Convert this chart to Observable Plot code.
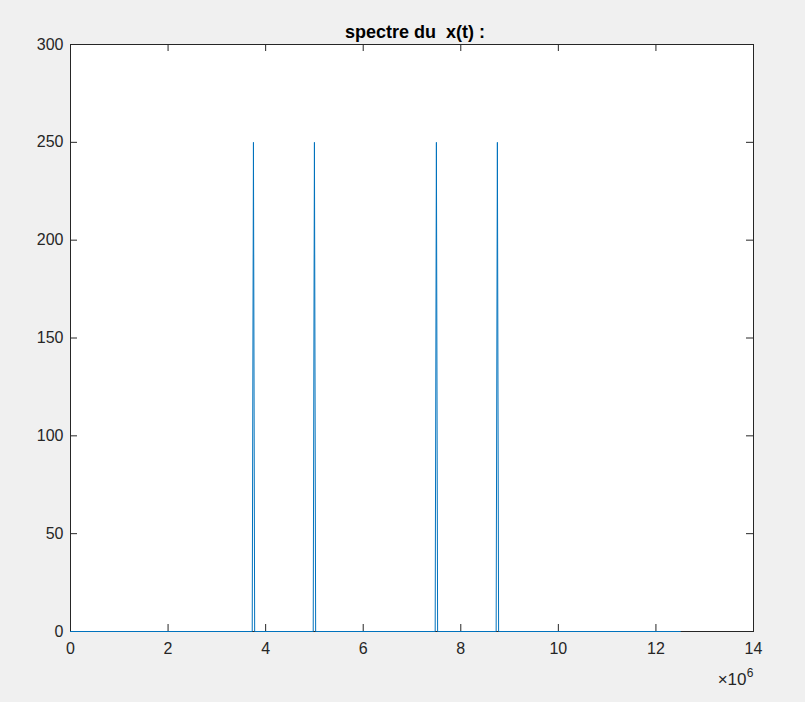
<!DOCTYPE html>
<html>
<head>
<meta charset="utf-8">
<script src="https://cdn.jsdelivr.net/npm/d3@7"></script>
<script src="https://cdn.jsdelivr.net/npm/@observablehq/plot@0.6"></script>
<style>
  html, body { margin: 0; padding: 0; background: #f0f0f0; }
  #chart { width: 805px; height: 702px; }
</style>
</head>
<body>
<div id="chart"></div>
<script>
const title = "spectre du  x(t) :";
const freq = [0, 3725000, 3750000, 3775000, 4975000, 5000000, 5025000, 7475000, 7500000, 7525000, 8725000, 8750000, 8775000, 12500000];
const amplitude = [0, 0, 250, 0, 0, 250, 0, 0, 250, 0, 0, 250, 0, 0];
const xTicks = [0, 2e6, 4e6, 6e6, 8e6, 10e6, 12e6, 14e6];
const yTicks = [0, 50, 100, 150, 200, 250, 300];
const exponentBase = "\u00d710";
const exponent = "6";

const data = freq.map((f, i) => ({f, a: amplitude[i]}));
const W = 805, H = 702;
const mL = 70, mR = 52, mT = 44, mB = 71;
const fh = H - mT - mB, fw = W - mL - mR;
const tl = 7;
const ink = "#262626";

const plot = Plot.plot({
  width: W, height: H,
  marginLeft: mL, marginRight: mR, marginTop: mT, marginBottom: mB,
  style: {background: "#f0f0f0", fontFamily: "'Liberation Sans', Arial, sans-serif", fontSize: "16px", color: ink},
  x: {domain: [0, 14e6], label: null},
  y: {domain: [0, 300], label: null},
  marks: [
    Plot.frame({fill: "white"}),
    Plot.tickX(xTicks, {x: d => d, stroke: ink, insetTop: fh - tl}),
    Plot.tickX(xTicks, {x: d => d, stroke: ink, insetBottom: fh - tl}),
    Plot.tickY(yTicks, {y: d => d, stroke: ink, insetRight: fw - tl}),
    Plot.tickY(yTicks, {y: d => d, stroke: ink, insetLeft: fw - tl}),
    Plot.frame({stroke: ink, strokeWidth: 1}),
    Plot.axisX(xTicks, {label: null, tickSize: 0, tickPadding: 11, tickFormat: d => String(d / 1e6), fill: ink, fontSize: 16}),
    Plot.axisY(yTicks, {label: null, tickSize: 0, tickPadding: 7, tickFormat: d => String(d), fill: ink, fontSize: 16}),
    Plot.line(data, {x: "f", y: "a", stroke: "#0072BD", strokeWidth: 1}),
    Plot.text([title], {text: d => d, frameAnchor: "top", lineAnchor: "bottom", dx: 3, dy: -7, fontWeight: "bold", fontSize: 18, fill: "#000"}),
    Plot.text([exponentBase], {text: d => d, frameAnchor: "bottom-right", textAnchor: "end", lineAnchor: "bottom", dx: -7, dy: 53, fontSize: 17, fill: ink}),
    Plot.text([exponent], {text: d => d, frameAnchor: "bottom-right", textAnchor: "end", lineAnchor: "bottom", dx: 0, dy: 45, fontSize: 12, fill: ink})
  ]
});
document.getElementById("chart").appendChild(plot);
</script>
</body>
</html>
